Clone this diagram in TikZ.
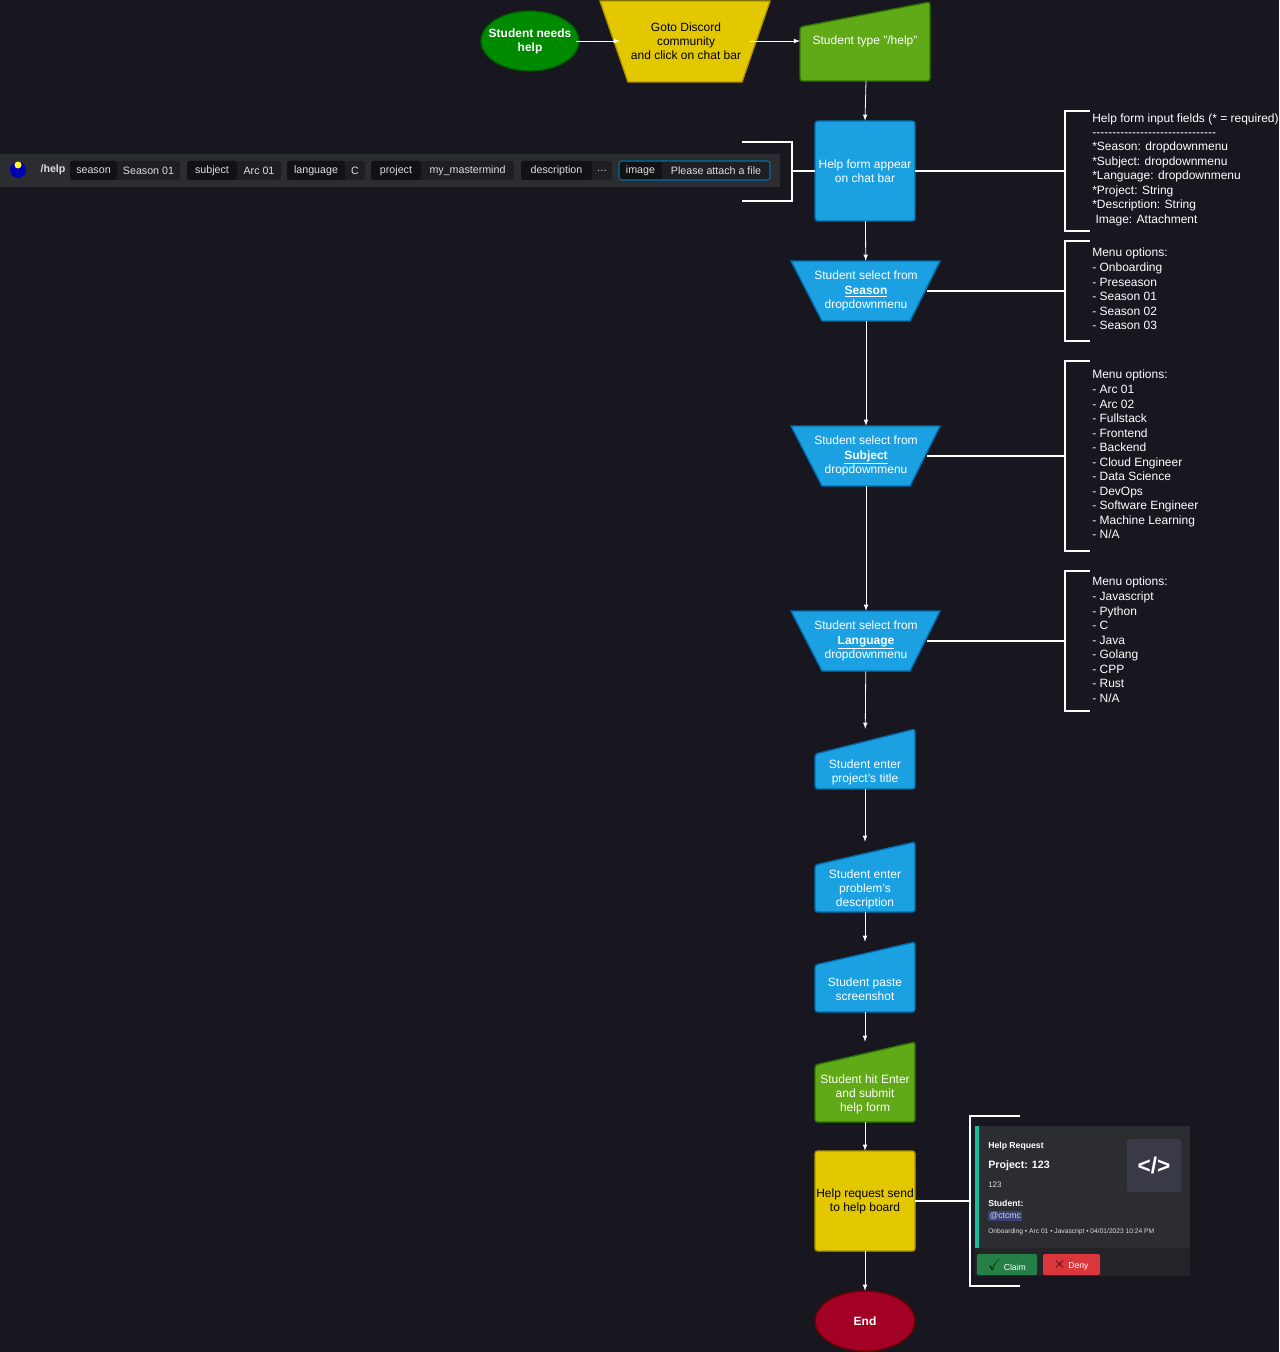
\documentclass[tikz,border=0pt]{standalone}
\usepackage{amssymb}
\usepackage{fontspec}
\setmainfont{Liberation Sans}
\usetikzlibrary{arrows.meta}
\tikzset{>=latex}
\definecolor{bg}{RGB}{24,22,31}
\definecolor{grnA}{RGB}{0,138,0}\definecolor{grnAd}{RGB}{0,90,0}
\definecolor{grnB}{RGB}{96,169,23}\definecolor{grnBd}{RGB}{45,118,0}
\definecolor{yel}{RGB}{227,200,0}\definecolor{yeld}{RGB}{176,149,0}
\definecolor{blu}{RGB}{27,161,226}\definecolor{blud}{RGB}{0,110,175}
\definecolor{redE}{RGB}{162,0,37}\definecolor{redEd}{RGB}{111,0,0}
\definecolor{dcbar}{RGB}{43,45,49}\definecolor{dclab}{RGB}{17,18,20}
\definecolor{dcval}{RGB}{30,31,34}\definecolor{dctxt}{RGB}{219,222,225}
\definecolor{dcfoot}{RGB}{35,36,40}\definecolor{teal}{RGB}{26,188,156}
\definecolor{dcgreen}{RGB}{36,128,70}\definecolor{dcred}{RGB}{218,55,60}
\definecolor{dcicon}{RGB}{56,58,72}\definecolor{dcment}{RGB}{60,66,112}
\newcommand\dashrow{-{}-{}-{}-{}-{}-{}-{}-{}-{}-{}-{}-{}-{}-{}-{}-{}-{}-{}-{}-{}-{}-{}-{}-{}-{}-{}-{}-{}-{}-{}-}
\tikzset{
  txt/.style={font=\fontsize{9}{10.6}\selectfont, align=center, text=white},
  box/.style={txt, minimum width=75pt, minimum height=45pt, inner sep=0pt},
  flow/.style={draw=white, ->, line width=0.6pt},
  brk/.style={draw=white, line width=0.8pt},
  note/.style={font=\fontsize{9}{10.9}\selectfont, align=left, text=white, anchor=north west, inner sep=0pt},
  chip/.style={font=\fontsize{8}{9}\selectfont, text=dctxt, inner sep=0pt},
}
\begin{document}
\begin{tikzpicture}[x=0.75pt,y=-0.75pt]
\fill[bg] (0,0) rectangle (1279,1352);
\useasboundingbox (0,0) rectangle (1279,1352);

% start / top row
\draw[fill=grnA, draw=grnAd, line width=1pt] (530,41) ellipse (49 and 30);
\node[txt] (start) at (530,41) {\textbf{Student needs}\\\textbf{help}};
\draw[fill=yel, draw=yeld, line width=1pt] (600,1) -- (770,1) -- (742,82) -- (628,82) -- cycle;
\node[txt, text=black] (discord) at (686,41) {Goto Discord\\community\\and click on chat bar};
\draw[fill=grnB, draw=grnBd, line width=1pt, rounded corners=2pt] (800,27) -- (930,2) -- (930,81) -- (800,81) -- cycle;
\node[txt] (type) at (865,41) {Student type "/help"};
\coordinate (typeS) at (866,81);

% blue steps
\draw[fill=blu, draw=blud, line width=1pt, rounded corners=2pt] (815,121) rectangle (915,221);
\node[box, minimum height=75pt] (form) at (865,171) {Help form appear\\on chat bar};
\foreach \y/\n/\w in {261/season/Season, 426/subject/Subject, 611/language/Language}{
  \draw[fill=blu, draw=blud, line width=1pt] (791,\y) -- (940,\y) -- (910,\y+60) -- (822,\y+60) -- cycle;
  \node[box] (\n) at (866,\y+30) {Student select from\\\textbf{\underline{\w}}\\dropdownmenu};
}
\foreach \t/\l/\b/\n/\c/\d/\s in {729/754/789/title/blu/blud/{Student enter\\project's title},
    842/865/912/descr/blu/blud/{Student enter\\problem's\\description},
    942/965/1012/paste/blu/blud/{Student paste\\screenshot},
    1042/1065/1122/submit/grnB/grnBd/{Student hit Enter\\and submit\\help form}}{
  \draw[fill=\c, draw=\d, line width=1pt, rounded corners=2pt] (815,\l) -- (915,\t) -- (915,\b) -- (815,\b) -- cycle;
  \node[box, minimum height=(\b-\t)*0.75pt] (\n) at (865,{(\t+\b)/2}) {};
  \node[txt] at (865,{(\l+\b)/2+1}) {\s};
}
\draw[fill=yel, draw=yeld, line width=1pt, rounded corners=2pt] (815,1151) rectangle (915,1251);
\node[box, minimum height=75pt, text=black] (send) at (865,1201) {Help request send\\to help board};
\draw[fill=redE, draw=redEd, line width=1pt] (865,1321) ellipse (50 and 30);
\node[txt, minimum height=45pt, minimum width=75pt] (end) at (865,1321) {\textbf{End}};

% connectors
\draw[flow] (start) -- (620,41);
\draw[flow] (750,41) -- (800,41);
\draw[flow] (typeS) -- (form.north);
\draw[flow] (form) -- (season);
\draw[flow] (season) -- (subject);
\draw[flow] (subject) -- (language);
\draw[flow] (language) -- (title);
\draw[flow] (title) -- (descr);
\draw[flow] (descr) -- (paste);
\draw[flow] (paste) -- (submit);
\draw[flow] (submit) -- (send);
\draw[flow] (send) -- (end);

% brackets and notes
\draw[brk] (form.east) -- (1065,171);
\foreach \n in {season, subject, language}{
  \draw[brk] ([xshift=7pt]\n.east) -- (1065,0 |- \n.east);
}
\foreach \t/\b in {111/231, 241/341, 361/551, 571/711}{
  \draw[brk] (1090,\t) -- (1065,\t) -- (1065,\b) -- (1090,\b);
}
\node[note] (nform) at (1092,114) {Help form input fields (* = required)\\[-1pt]\dashrow\\*Season: dropdownmenu\\*Subject: dropdownmenu\\*Language: dropdownmenu\\*Project: String\\*Description: String\\\ Image: Attachment};
\node[note] (nseason) at (1092,248) {Menu options:\\- Onboarding\\- Preseason\\- Season 01\\- Season 02\\- Season 03};
\node[note] (nsubject) at (1092,370) {Menu options:\\- Arc 01\\- Arc 02\\- Fullstack\\- Frontend\\- Backend\\- Cloud Engineer\\- Data Science\\- DevOps\\- Software Engineer\\- Machine Learning\\- N/A};
\node[note] (nlang) at (1092,577) {Menu options:\\- Javascript\\- Python\\- C\\- Java\\- Golang\\- CPP\\- Rust\\- N/A};
\draw[brk] (form.west) -- (792,171);
\draw[brk] (742,142) -- (792,142) -- (792,201) -- (742,201);
\draw[brk] (send.east) -- (970,1201);
\draw[brk] (1020,1116) -- (970,1116) -- (970,1286) -- (1020,1286);

% discord command bar
\fill[dcbar] (0,154) rectangle (780,187);
\fill[blue!70!black] (18,170) circle (8);
\fill[yellow!80!white] (18,165) circle (3.5);
\node[chip, font=\bfseries\fontsize{8}{9}\selectfont] at (53,170) {/help};
\foreach \a/\m/\e/\l/\v in {70/117/180/season/Season 01, 187/237/281/subject/Arc 01,
    287/345/365/language/C, 371/421/514/project/my\_mastermind, 521/592/612/description/\ldots,
    619/662/770/image/Please attach a file}{
  \fill[dcval, rounded corners=2pt] (\a,161) rectangle (\e,180);
  \fill[dclab, rounded corners=2pt] (\a,161) rectangle (\m,180);
  \node[chip] at ({(\a+\m)/2},170.5) {\l};
  \node[chip] at ({(\m+\e)/2},170.5) {\v};
}
\draw[blud, line width=0.8pt, rounded corners=2pt] (619,161) rectangle (770,180);

% help board card
\fill[dcbar] (975,1126) rectangle (1190,1276);
\fill[dcfoot] (975,1248) rectangle (1190,1276);
\fill[teal] (975,1126) rectangle (979,1248);
\fill[dcicon, rounded corners=2pt] (1127,1139) rectangle (1181,1192);
\node[text=white, font=\bfseries\fontsize{17}{17}\selectfont] at (1154,1165) {</>};
\node[chip, anchor=west, text=white, font=\bfseries\fontsize{6.5}{7}\selectfont] at (988,1146) {Help Request};
\node[chip, anchor=west, text=white, font=\bfseries\fontsize{8}{9}\selectfont] at (988,1166) {Project: 123};
\node[chip, anchor=west, font=\fontsize{6}{7}\selectfont] at (988,1185) {123};
\node[chip, anchor=west, text=white, font=\bfseries\fontsize{6.5}{7}\selectfont] at (988,1203) {Student:};
\node[chip, anchor=west, fill=dcment, text=blue!20!white, inner sep=1pt, font=\fontsize{6.5}{7}\selectfont] at (988,1216) {@ctcmc};
\node[chip, anchor=west, font=\fontsize{5}{6}\selectfont] at (988,1232) {Onboarding • Arc 01 • Javascript • 04/01/2023 10:24 PM};
\fill[dcgreen, rounded corners=1pt] (977,1254) rectangle (1037,1275);
\fill[dcred, rounded corners=1pt] (1043,1254) rectangle (1100,1275);
\node[chip, text=white, font=\fontsize{6.5}{7}\selectfont] at (1007,1265) {\textcolor{black!80!green}{\large$\checkmark$}\ Claim};
\node[chip, text=white, font=\fontsize{6.5}{7}\selectfont] at (1071,1265) {\textcolor{black!80!red}{\large$\times$}\ Deny};
\end{tikzpicture}
\end{document}
